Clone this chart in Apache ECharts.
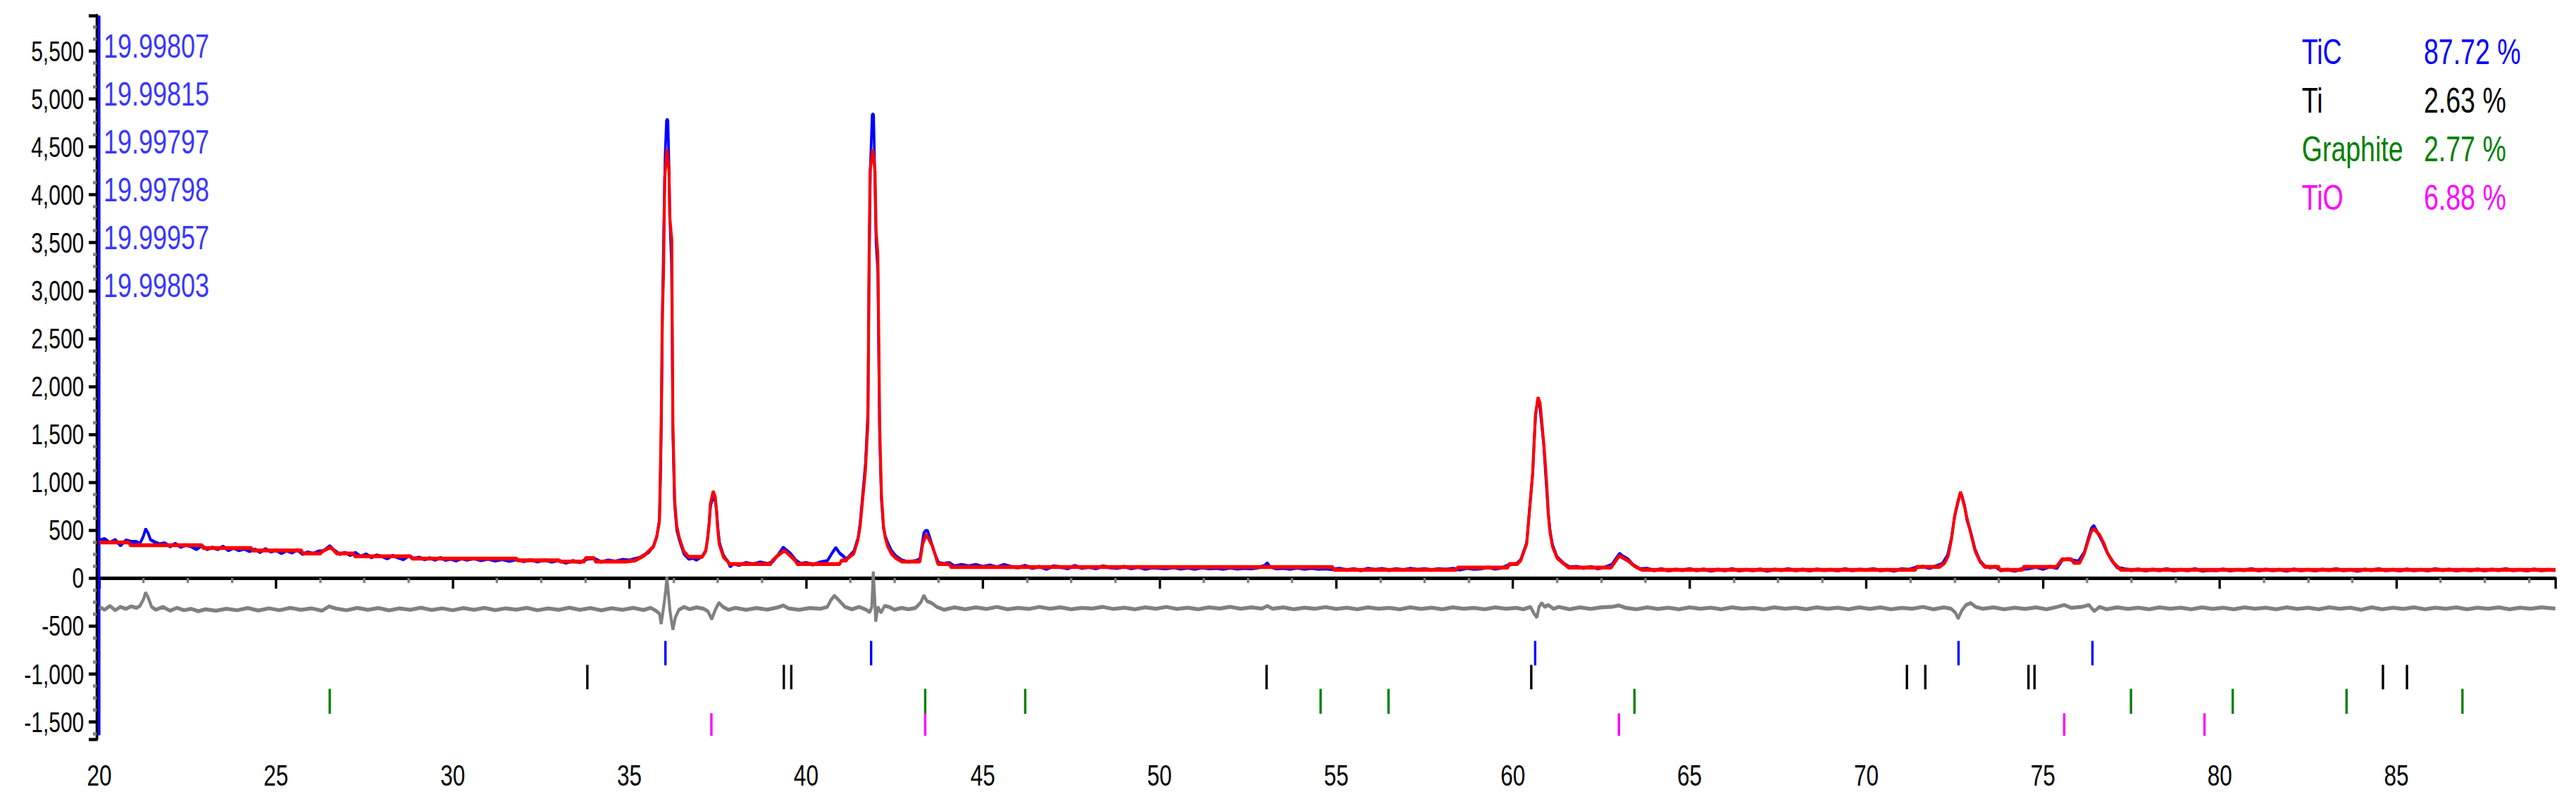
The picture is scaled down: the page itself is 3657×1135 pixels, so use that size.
<!DOCTYPE html>
<html>
<head>
<meta charset="utf-8">
<script src="https://cdn.jsdelivr.net/npm/echarts@6/dist/echarts.min.js"></script>
<style>
html, body { margin: 0; padding: 0; overflow: hidden; background: #fff; }
#wrap { width: 3657px; height: 1135px; overflow: hidden; }
/* the original picture is squeezed sideways, so draw wider and scale down in x */
#chart { width: 4876px; height: 1135px; transform: scaleX(0.75); transform-origin: 0 0; }
</style>
</head>
<body>
<div id="wrap"><div id="chart"></div></div>
<script>
// observed pattern (2theta, counts)
const obsPts = [
  [20.0,395],[20.15,410],[20.3,370],[20.45,400],[20.6,340],[20.75,395],[20.9,380],[21.05,380],[21.15,360],[21.25,440],
  [21.31,514],[21.38,470],[21.45,400],[21.55,380],[21.7,355],[21.85,365],[22.0,330],[22.15,360],[22.3,325],[22.45,345],
  [22.6,330],[22.75,300],[22.9,340],[23.05,300],[23.2,320],[23.35,300],[23.5,330],[23.65,290],[23.8,315],[23.95,290],
  [24.1,305],[24.25,280],[24.4,300],[24.55,270],[24.7,305],[24.85,275],[25.0,290],[25.15,260],[25.3,285],[25.45,265],
  [25.6,295],[25.75,250],[25.9,270],[26.05,255],[26.2,280],[26.35,285],[26.52,335],[26.65,290],[26.8,250],[26.95,265],
  [27.1,240],[27.25,265],[27.4,225],[27.55,250],[27.7,215],[27.85,240],[28.0,225],[28.15,205],[28.3,235],[28.45,215],
  [28.6,195],[28.75,230],[28.9,205],[29.05,215],[29.2,195],[29.35,210],[29.5,190],[29.65,212],[29.8,188],[29.95,200],
  [30.1,182],[30.25,205],[30.4,190],[30.6,205],[30.8,185],[31.0,200],[31.2,182],[31.4,196],[31.6,178],[31.8,195],
  [32.0,175],[32.2,190],[32.4,172],[32.6,188],[32.8,170],[33.0,185],[33.2,160],[33.4,180],[33.6,165],[33.8,200],
  [34.0,205],[34.2,170],[34.4,185],[34.6,175],[34.8,192],[35.0,185],[35.15,200],[35.3,215],[35.41,240],[35.55,270],
  [35.68,335],[35.77,430],[35.85,610],[35.88,1050],[35.91,1750],[35.94,2900],[35.97,3600],[36.01,4400],[36.05,4781],[36.09,4781],
  [36.12,4300],[36.15,3700],[36.19,3300],[36.21,2600],[36.23,1500],[36.28,760],[36.34,500],[36.41,400],[36.54,255],[36.68,200],
  [36.8,210],[36.9,190],[37.0,215],[37.06,225],[37.16,290],[37.21,410],[37.26,590],[37.3,760],[37.37,850],[37.43,800],
  [37.47,700],[37.5,540],[37.55,370],[37.66,240],[37.79,170],[37.85,120],[37.95,150],[38.1,135],[38.3,160],[38.5,145],
  [38.7,165],[38.9,150],[39.05,170],[39.2,240],[39.35,320],[39.45,290],[39.55,260],[39.7,190],[39.85,150],[40.0,160],
  [40.2,140],[40.4,165],[40.6,180],[40.75,270],[40.84,319],[40.95,260],[41.05,230],[41.13,200],[41.2,220],[41.35,280],
  [41.47,420],[41.53,580],[41.68,1200],[41.75,1750],[41.78,3100],[41.82,4300],[41.87,4838],[41.91,4838],[41.95,4100],[41.98,3500],
  [42.03,3200],[42.05,2500],[42.08,1500],[42.13,820],[42.19,520],[42.24,440],[42.31,370],[42.41,290],[42.54,230],[42.71,185],
  [42.9,170],[43.1,180],[43.22,200],[43.28,350],[43.33,470],[43.38,494],[43.44,494],[43.52,400],[43.6,300],[43.68,220],
  [43.75,160],[43.9,150],[44.05,160],[44.2,125],[44.4,140],[44.6,125],[44.8,140],[45.0,120],[45.2,135],[45.4,115],
  [45.6,140],[45.8,120],[46.0,110],[46.2,130],[46.4,105],[46.6,120],[46.8,95],[47.0,125],[47.2,115],[47.4,100],
  [47.6,130],[47.8,105],[48.0,115],[48.2,100],[48.4,125],[48.6,110],[48.8,105],[49.0,120],[49.2,100],[49.4,115],
  [49.6,95],[49.8,110],[50.0,105],[50.2,100],[50.4,112],[50.6,98],[50.8,108],[51.0,95],[51.2,110],[51.4,100],
  [51.6,105],[51.8,95],[52.0,108],[52.2,97],[52.4,105],[52.6,100],[52.8,110],[52.98,130],[53.05,159],[53.12,120],
  [53.3,100],[53.5,105],[53.7,95],[53.9,108],[54.1,96],[54.3,104],[54.5,95],[54.7,100],[54.9,92],[55.1,100],
  [55.3,85],[55.5,95],[55.7,80],[55.9,100],[56.1,88],[56.3,98],[56.5,82],[56.7,95],[56.9,85],[57.1,100],
  [57.3,88],[57.5,96],[57.7,84],[57.9,95],[58.1,90],[58.3,100],[58.5,88],[58.7,105],[58.9,95],[59.1,100],
  [59.3,112],[59.5,98],[59.7,108],[59.9,140],[60.1,150],[60.22,190],[60.39,370],[60.47,720],[60.56,1100],[60.6,1400],
  [60.64,1700],[60.7,1850],[60.74,1860],[60.8,1650],[60.87,1400],[60.94,1000],[61.0,690],[61.05,500],[61.12,350],[61.25,220],
  [61.45,150],[61.6,115],[61.8,120],[62.0,105],[62.2,118],[62.4,100],[62.6,112],[62.8,140],[62.95,220],[63.02,257],
  [63.1,230],[63.25,200],[63.4,140],[63.6,95],[63.8,100],[64.0,80],[64.2,95],[64.4,78],[64.6,90],[64.8,82],
  [65.0,95],[65.2,80],[65.4,92],[65.6,76],[65.8,90],[66.0,80],[66.2,95],[66.4,78],[66.6,88],[66.8,80],
  [67.0,92],[67.2,75],[67.4,90],[67.6,82],[67.8,95],[68.0,80],[68.2,90],[68.4,78],[68.6,92],[68.8,82],
  [69.0,88],[69.2,78],[69.4,95],[69.6,80],[69.8,90],[70.0,85],[70.2,95],[70.4,80],[70.6,88],[70.8,76],
  [71.0,95],[71.2,88],[71.4,110],[71.6,120],[71.8,105],[72.0,130],[72.15,150],[72.3,240],[72.41,420],[72.5,640],
  [72.59,780],[72.65,880],[72.7,870],[72.78,760],[72.85,600],[72.95,490],[73.08,300],[73.22,180],[73.35,125],[73.5,110],
  [73.65,120],[73.8,80],[74.0,90],[74.2,75],[74.4,95],[74.6,100],[74.8,115],[75.0,95],[75.2,120],[75.4,105],
  [75.55,190],[75.7,200],[75.85,185],[76.0,175],[76.17,270],[76.27,400],[76.37,520],[76.44,547],[76.55,470],[76.68,380],
  [76.8,280],[76.95,180],[77.1,110],[77.3,95],[77.5,82],[77.7,92],[77.9,78],[78.1,90],[78.3,80],[78.5,95],
  [78.7,78],[78.9,88],[79.1,80],[79.3,95],[79.5,76],[79.7,85],[79.9,80],[80.1,92],[80.3,78],[80.5,88],
  [80.7,82],[80.9,95],[81.1,78],[81.3,90],[81.5,80],[81.7,88],[81.9,76],[82.1,92],[82.3,80],[82.5,88],
  [82.7,78],[82.9,90],[83.1,82],[83.3,95],[83.5,80],[83.7,88],[83.9,76],[84.1,90],[84.3,82],[84.5,95],
  [84.7,80],[84.9,88],[85.1,78],[85.3,92],[85.5,80],[85.7,88],[85.9,78],[86.1,95],[86.3,82],[86.5,90],
  [86.7,78],[86.9,88],[87.1,80],[87.3,92],[87.5,78],[87.7,90],[87.9,82],[88.1,95],[88.3,80],[88.5,88],
  [88.7,78],[88.9,92],[89.1,80],[89.3,88],[89.5,82]
];

// calculated pattern
const calcPts = [
  [20,372],[20.84,372],[20.88,343],[22.9,343],[22.94,314],[24.3,314],[24.34,289],[25.72,289],[25.76,257],[26.26,257],
  [26.32,282],[26.45,305],[26.52,319],[26.6,305],[26.68,270],[26.72,257],[27.19,257],[27.23,228],[28.81,228],[28.85,203],
  [31.8,203],[31.84,186],[33.0,186],[33.04,172],[33.72,172],[33.76,209],[34.0,209],[34.04,172],[34.9,172],[35.15,183],
  [35.41,234],[35.68,329],[35.77,424],[35.85,593],[35.87,992],[35.9,1628],[35.93,2731],[35.965,3148],[36.0,4177],[36.06,4472],
  [36.12,4250],[36.14,3780],[36.17,3647],[36.2,3525],[36.21,2731],[36.23,1628],[36.28,813],[36.34,544],[36.41,424],[36.54,278],
  [36.68,222],[37.06,222],[37.16,282],[37.21,404],[37.26,576],[37.29,772],[37.37,907],[37.43,845],[37.46,723],[37.49,551],
  [37.54,356],[37.66,220],[37.79,172],[37.83,147],[39.0,147],[39.05,184],[39.19,233],[39.35,280],[39.42,280],[39.55,233],
  [39.69,184],[39.75,147],[40.95,147],[41.0,184],[41.13,184],[41.18,209],[41.35,257],[41.47,404],[41.53,544],[41.68,1130],
  [41.75,1628],[41.78,3233],[41.81,4250],[41.89,4472],[41.95,4250],[41.98,3624],[42.03,3380],[42.05,2731],[42.08,1628],[42.13,886],
  [42.19,544],[42.24,424],[42.31,331],[42.41,257],[42.54,209],[42.71,172],[43.22,172],[43.3,356],[43.4,458],[43.58,331],
  [43.68,209],[43.73,147],[44.05,147],[44.1,115],[54.9,115],[54.94,86],[58.4,86],[58.44,110],[59.86,110],[59.89,147],
  [60.12,147],[60.22,184],[60.39,358],[60.47,698],[60.56,1090],[60.6,1408],[60.64,1702],[60.71,1886],[60.77,1825],[60.82,1629],
  [60.89,1335],[60.96,968],[61.0,674],[61.05,478],[61.12,331],[61.25,209],[61.45,147],[61.58,110],[62.78,110],[62.85,147],
  [63.01,233],[63.25,184],[63.45,123],[63.65,86],[71.39,86],[71.42,118],[72.08,118],[72.22,159],[72.32,233],[72.41,404],
  [72.5,650],[72.59,797],[72.67,899],[72.78,747],[72.85,625],[72.95,478],[73.08,282],[73.22,172],[73.35,118],[73.75,118],
  [73.78,86],[74.42,86],[74.45,118],[75.38,118],[75.54,196],[75.81,196],[75.87,159],[76.04,159],[76.17,257],[76.27,380],
  [76.37,490],[76.44,514],[76.6,453],[76.73,356],[76.83,257],[77.0,159],[77.2,86],[89.5,86]
];

// difference curve (shifted down)
const diffPts = [
  [20.0,-300],[20.15,-330],[20.3,-290],[20.45,-335],[20.6,-300],[20.75,-320],[20.9,-295],[21.05,-310],[21.15,-290],[21.25,-220],
  [21.31,-151],[21.38,-200],[21.48,-300],[21.6,-330],[21.8,-300],[22.0,-340],[22.2,-310],[22.4,-335],[22.6,-320],[22.8,-345],
  [23.0,-325],[23.3,-340],[23.6,-320],[23.9,-335],[24.2,-312],[24.5,-338],[24.8,-315],[25.1,-335],[25.4,-310],[25.7,-330],
  [26.0,-315],[26.3,-340],[26.5,-295],[26.7,-318],[27.0,-335],[27.3,-310],[27.6,-330],[27.9,-312],[28.2,-336],[28.5,-315],
  [28.8,-330],[29.1,-308],[29.4,-332],[29.7,-315],[30.0,-335],[30.3,-312],[30.6,-330],[30.9,-310],[31.2,-334],[31.5,-315],
  [31.8,-328],[32.1,-310],[32.4,-335],[32.7,-316],[33.0,-330],[33.3,-308],[33.6,-330],[33.9,-312],[34.2,-336],[34.5,-314],
  [34.8,-330],[35.1,-310],[35.4,-332],[35.6,-310],[35.75,-340],[35.85,-370],[35.9,-478],[35.97,-300],[36.03,-120],[36.06,12],
  [36.1,-150],[36.15,-350],[36.23,-538],[36.3,-410],[36.4,-330],[36.55,-300],[36.7,-325],[36.9,-305],[37.1,-320],[37.22,-345],
  [37.33,-428],[37.43,-330],[37.53,-257],[37.65,-300],[37.8,-330],[38.0,-310],[38.3,-330],[38.6,-312],[38.9,-328],[39.2,-305],
  [39.35,-285],[39.5,-315],[39.8,-330],[40.1,-312],[40.4,-320],[40.6,-300],[40.7,-230],[40.8,-184],[40.95,-240],[41.1,-300],
  [41.3,-325],[41.5,-300],[41.7,-330],[41.8,-355],[41.86,-300],[41.9,69],[41.94,-200],[41.97,-454],[42.03,-300],[42.12,-360],
  [42.22,-290],[42.35,-300],[42.5,-330],[42.7,-310],[42.9,-325],[43.1,-310],[43.25,-250],[43.33,-180],[43.42,-240],[43.55,-260],
  [43.7,-300],[43.9,-330],[44.2,-305],[44.5,-325],[44.8,-305],[45.1,-322],[45.4,-300],[45.7,-325],[46.0,-310],[46.3,-322],
  [46.6,-300],[46.9,-320],[47.2,-305],[47.5,-325],[47.8,-310],[48.1,-318],[48.4,-300],[48.7,-322],[49.0,-308],[49.3,-325],
  [49.6,-305],[49.9,-320],[50.2,-300],[50.5,-322],[50.8,-308],[51.1,-325],[51.4,-305],[51.7,-318],[52.0,-300],[52.3,-320],
  [52.6,-305],[52.9,-318],[53.05,-290],[53.2,-320],[53.5,-305],[53.8,-325],[54.1,-308],[54.4,-320],[54.7,-302],[55.0,-322],
  [55.3,-308],[55.6,-325],[55.9,-305],[56.2,-320],[56.5,-310],[56.8,-325],[57.1,-305],[57.4,-322],[57.7,-308],[58.0,-325],
  [58.3,-305],[58.6,-320],[58.9,-310],[59.2,-325],[59.5,-305],[59.8,-320],[60.1,-310],[60.3,-325],[60.5,-300],[60.6,-370],
  [60.68,-410],[60.74,-300],[60.82,-260],[60.9,-300],[61.0,-280],[61.15,-320],[61.3,-300],[61.6,-325],[61.9,-305],[62.2,-322],
  [62.5,-305],[62.8,-300],[63.0,-285],[63.2,-310],[63.5,-325],[63.8,-305],[64.1,-322],[64.4,-308],[64.7,-325],[65.0,-305],
  [65.3,-320],[65.6,-308],[65.9,-325],[66.2,-305],[66.5,-320],[66.8,-310],[67.1,-325],[67.4,-305],[67.7,-320],[68.0,-308],
  [68.3,-325],[68.6,-305],[68.9,-320],[69.2,-308],[69.5,-325],[69.8,-305],[70.1,-322],[70.4,-305],[70.7,-325],[71.0,-310],
  [71.3,-320],[71.6,-300],[71.9,-325],[72.2,-305],[72.4,-320],[72.52,-360],[72.6,-420],[72.7,-340],[72.82,-280],[72.95,-260],
  [73.1,-300],[73.3,-320],[73.6,-305],[73.9,-325],[74.2,-308],[74.5,-322],[74.8,-305],[75.1,-325],[75.4,-300],[75.6,-280],
  [75.8,-310],[76.1,-300],[76.3,-280],[76.45,-345],[76.6,-300],[76.8,-325],[77.1,-305],[77.4,-322],[77.7,-308],[78.0,-325],
  [78.3,-305],[78.6,-320],[78.9,-308],[79.2,-325],[79.5,-305],[79.8,-322],[80.1,-308],[80.4,-325],[80.7,-305],[81.0,-320],
  [81.3,-308],[81.6,-325],[81.9,-305],[82.2,-322],[82.5,-308],[82.8,-325],[83.1,-305],[83.4,-320],[83.7,-308],[84.0,-330],
  [84.3,-305],[84.6,-325],[84.9,-308],[85.2,-322],[85.5,-305],[85.8,-325],[86.1,-308],[86.4,-320],[86.7,-305],[87.0,-325],
  [87.3,-308],[87.6,-320],[87.9,-305],[88.2,-325],[88.5,-308],[88.8,-320],[89.1,-305],[89.5,-318]
];

// blue edge line at the start of the scan and its labels
const edgeX = [19.99807, 19.99815, 19.99797, 19.99798, 19.99957, 19.99803];
const edgeY = [5500, 5000, 4500, 4000, 3500, 3000];
const edgeEnds = [[19.998, 5870], [19.998, -1640]];

// reflection positions per phase
const ticksTiC = [36.02, 41.84, 60.63, 72.61, 76.40];
const ticksTi = [33.81, 39.37, 39.58, 53.03, 60.52, 71.15, 71.67, 74.59, 74.76, 84.62, 85.30];
const ticksGraphite = [26.52, 43.37, 46.20, 54.56, 56.48, 63.44, 77.49, 80.37, 83.59, 86.87];
const ticksTiO = [37.32, 43.37, 63.00, 75.60, 79.57];

// phase table
const phaseNames = ['TiC', 'Ti', 'Graphite', 'TiO'];
const phasePcts = ['87.72 %', '2.63 %', '2.77 %', '6.88 %'];

const FONT = '"Liberation Sans", Arial, sans-serif';
const phaseColors = ['#0000FF', '#000000', '#008000', '#FF00FF'];
const tickRows = [[-655, -910], [-905, -1160], [-1155, -1415], [-1410, -1645]];
const rowY = [73, 142, 211, 280];

function tickSeries(name, list, row, color) {
  return {
    name: name,
    type: 'custom',
    silent: true,
    clip: false,
    data: list.map(function (x) { return [x, row[0]]; }),
    encode: { x: 0, y: 1 },
    renderItem: function (params, api) {
      const a = api.coord([api.value(0), row[0]]);
      const b = api.coord([api.value(0), row[1]]);
      return {
        type: 'line',
        shape: { x1: a[0], y1: a[1], x2: b[0], y2: b[1] },
        style: { stroke: color, lineWidth: 4.5 }
      };
    }
  };
}

const graphics = [];
phaseNames.forEach(function (n, i) {
  graphics.push({ type: 'text', x: 4357, y: rowY[i],
    style: { text: n, fill: phaseColors[i], fontSize: 50, fontFamily: FONT, verticalAlign: 'middle' } });
  graphics.push({ type: 'text', x: 4588, y: rowY[i],
    style: { text: phasePcts[i], fill: phaseColors[i], fontSize: 50, fontFamily: FONT, verticalAlign: 'middle' } });
});

const tickStyle = { show: true, length: 15, lineStyle: { color: '#000', width: 4.5 } };
const minorStyle = { show: true, splitNumber: 4, length: 7, lineStyle: { color: '#808080', width: 4.5 } };

const chart = echarts.init(document.getElementById('chart'), null, { renderer: 'svg' });
chart.setOption({
  animation: false,
  backgroundColor: '#fff',
  grid: { left: 188, right: 39, top: 22, bottom: 85 },
  xAxis: {
    type: 'value', min: 20, max: 89.5, interval: 5,
    axisLine: { show: true, lineStyle: { color: '#000', width: 5 } },
    axisTick: tickStyle,
    minorTick: minorStyle,
    splitLine: { show: false },
    axisLabel: { color: '#000', fontSize: 42, fontFamily: FONT, margin: 30, showMaxLabel: false }
  },
  yAxis: {
    // no fixed interval here: let the scale pick 500 so ticks sit on round values
    type: 'value', min: -1680, max: 5870, splitNumber: 15, offset: 5,
    axisLine: { show: true, lineStyle: { color: '#000', width: 5 } },
    axisTick: tickStyle,
    minorTick: minorStyle,
    splitLine: { show: false },
    axisLabel: { color: '#000', fontSize: 40, fontFamily: FONT, margin: 24, showMinLabel: false, showMaxLabel: false }
  },
  graphic: graphics,
  series: [
    {
      name: 'edge', type: 'line', data: [edgeEnds[0]].concat(edgeX.map(function (x, i) { return [x, edgeY[i]]; }), [edgeEnds[1]]),
      showSymbol: false, clip: false, lineStyle: { color: '#0000FF', width: 4.5 }, silent: true
    },
    {
      name: 'edgeLabels', type: 'scatter', symbolSize: 0, clip: false, silent: true,
      data: edgeX.map(function (x, i) { return [x, edgeY[i]]; }),
      label: {
        show: true, position: 'right', distance: 8, offset: [0, -7],
        color: '#0000FF', fontSize: 48, fontFamily: FONT,
        formatter: function (p) { return p.value[0].toFixed(5); }
      }
    },
    { name: 'Yobs', type: 'line', data: obsPts, showSymbol: false, lineStyle: { color: '#0000FF', width: 5 } },
    { name: 'Ycalc', type: 'line', data: calcPts, showSymbol: false, lineStyle: { color: '#FF0000', width: 5.5 } },
    { name: 'Diff', type: 'line', data: diffPts, showSymbol: false, lineStyle: { color: '#808080', width: 5.5 } },
    tickSeries('TiC', ticksTiC, tickRows[0], phaseColors[0]),
    tickSeries('Ti', ticksTi, tickRows[1], phaseColors[1]),
    tickSeries('Graphite', ticksGraphite, tickRows[2], phaseColors[2]),
    tickSeries('TiO', ticksTiO, tickRows[3], phaseColors[3])
  ]
});
</script>
</body>
</html>
